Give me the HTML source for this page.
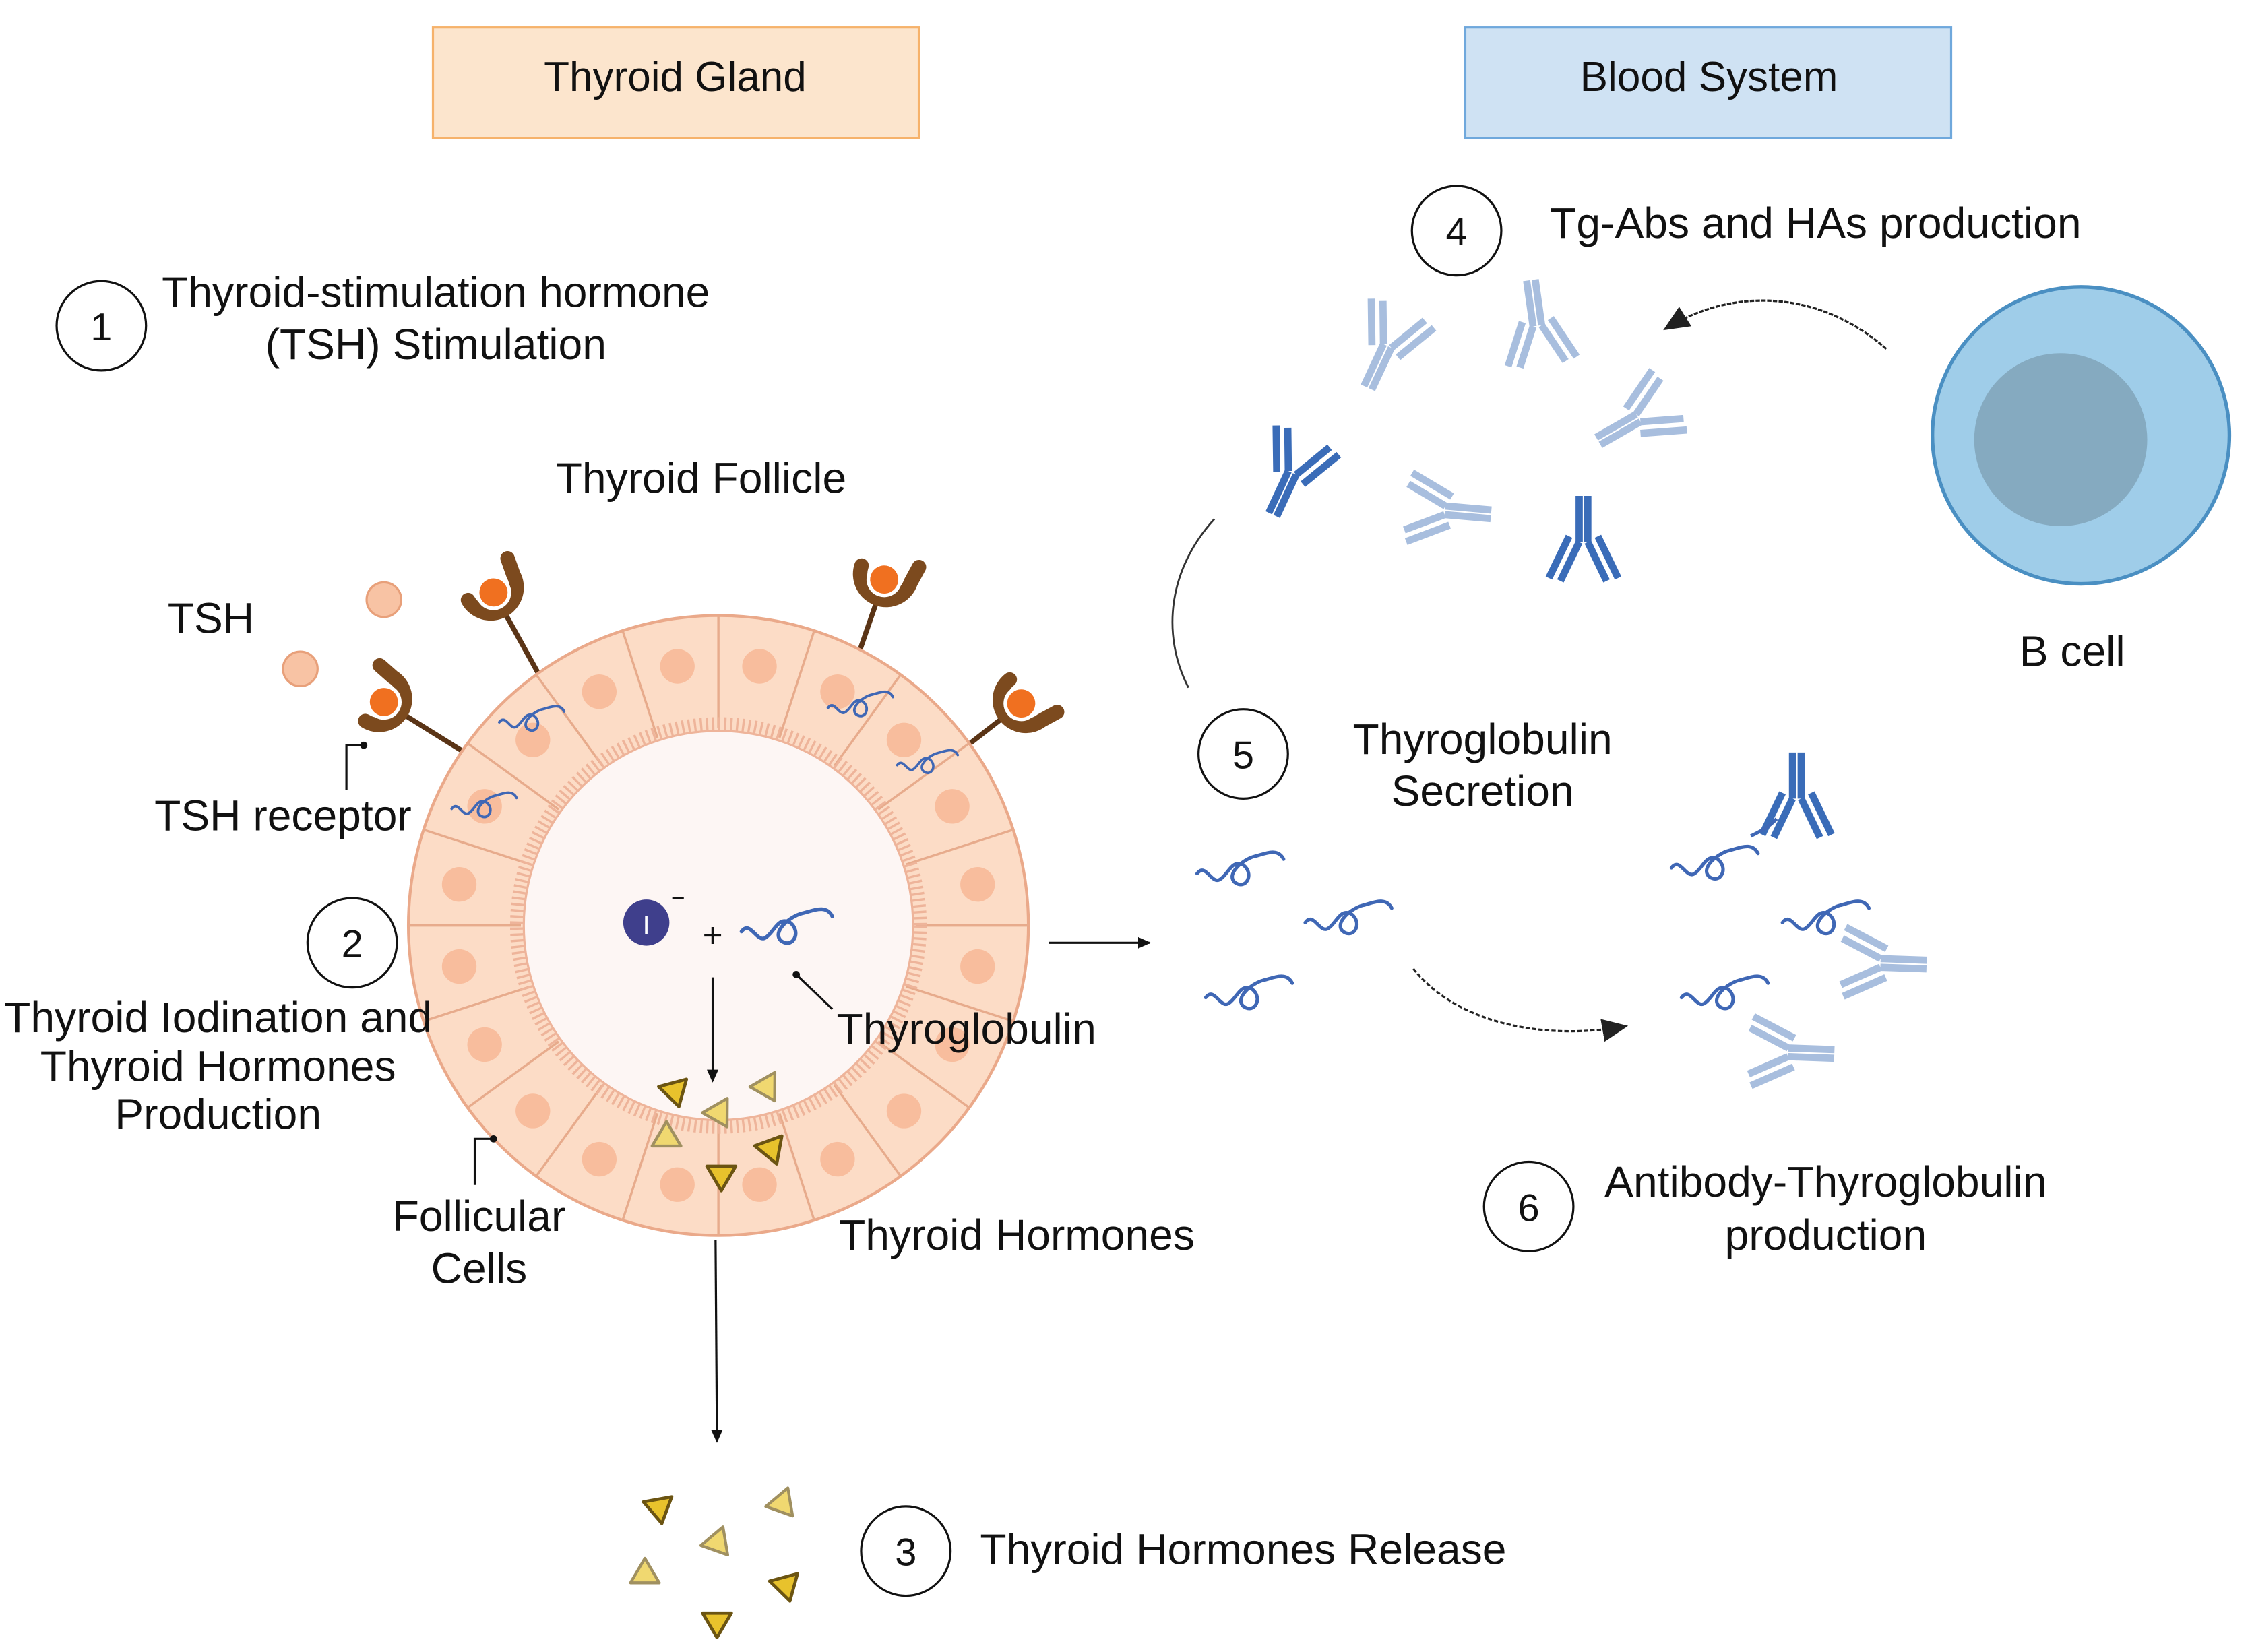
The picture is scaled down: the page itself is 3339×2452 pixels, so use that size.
<!DOCTYPE html>
<html><head><meta charset="utf-8"><style>
html,body{margin:0;padding:0;background:#fff;}
svg{display:block;}
text{font-family:"Liberation Sans",Arial,sans-serif;fill:#111;}
</style></head><body>
<svg width="3339" height="2452" viewBox="0 0 1560 1146" xmlns="http://www.w3.org/2000/svg">
<defs>
<marker id="ah" markerWidth="10" markerHeight="10" refX="8" refY="5" orient="auto" markerUnits="userSpaceOnUse">
<path d="M0,1 L9,5 L0,9 Z" fill="#111"/></marker>
<marker id="ahb" markerWidth="20" markerHeight="16" refX="16" refY="8" orient="auto" markerUnits="userSpaceOnUse">
<path d="M0,0 L18,8 L0,16 Z" fill="#222"/></marker>
<g id="abd" stroke="#3a6cb8" stroke-width="5" stroke-linecap="butt" fill="none">
<path d="M-3,0 L-3,-32 M3,0 L3,-32 M-3,0 L-16,27 M3,0 L16,27 M-10,-4 L-24,25 M10,-4 L24,25"/>
</g>
<g id="abl" stroke="#a8bede" stroke-width="5" stroke-linecap="butt" fill="none">
<path d="M-3,0 L-3,-32 M3,0 L3,-32 M-3,0 L-16,27 M3,0 L16,27 M-10,-4 L-24,25 M10,-4 L24,25"/>
</g>
<g id="rec">
<line x1="0" y1="18" x2="0" y2="64" stroke="#5a3416" stroke-width="3.5"/>
<path d="M-18,-4 A18,18 0 0 0 18,-4 L20,-16" fill="none" stroke="#7c4a1e" stroke-width="10" stroke-linecap="round"/>
<circle cx="0" cy="0" r="11" fill="#f07020" stroke="#fff" stroke-width="2.5"/>
</g>
<path id="tg" d="M0,4 c6,-8 10,8 16,4 c6,-4 8,-14 16,-10 c8,6 2,18 -6,12 c-6,-6 6,-16 14,-18 c8,-2 16,-6 20,2" fill="none" stroke="#3f67b5" stroke-width="2.4" stroke-linecap="round"/>
<path id="tri" d="M-10,-7 L10,-7 L0,10 Z" fill="#e8c22c" stroke="#6b5412" stroke-width="2.2" stroke-linejoin="round"/>
<path id="tril" d="M-10,-7 L10,-7 L0,10 Z" fill="#f0d870" stroke="#a09060" stroke-width="2" stroke-linejoin="round"/>
</defs>

<!-- header boxes -->
<rect x="300" y="19" width="337" height="77" fill="#fce5cd" stroke="#f6b26b" stroke-width="1.5"/>
<text x="468" y="63" font-size="29" text-anchor="middle">Thyroid Gland</text>
<rect x="1016" y="19" width="337" height="77" fill="#cfe2f3" stroke="#6fa8dc" stroke-width="1.5"/>
<text x="1185" y="63" font-size="29" text-anchor="middle">Blood System</text>

<!-- step circles -->
<g fill="#fff" stroke="#111" stroke-width="1.5">
<circle cx="70" cy="226" r="31"/><circle cx="244" cy="654" r="31"/><circle cx="628" cy="1076" r="31"/>
<circle cx="1010" cy="160" r="31"/><circle cx="862" cy="523" r="31"/><circle cx="1060" cy="837" r="31"/>
</g>
<g font-size="27" text-anchor="middle">
<text x="70" y="236">1</text><text x="244" y="664">2</text><text x="628" y="1086">3</text>
<text x="1010" y="170">4</text><text x="862" y="533">5</text><text x="1060" y="847">6</text>
</g>

<!-- TSH balls -->
<circle cx="266" cy="416" r="12" fill="#f8c3a4" stroke="#e8a07a" stroke-width="1.5"/>
<circle cx="208" cy="464" r="12" fill="#f8c3a4" stroke="#e8a07a" stroke-width="1.5"/>

<!-- receptors -->
<use href="#rec" transform="translate(266,487) rotate(-58)"/>
<use href="#rec" transform="translate(342,411) rotate(-29)"/>
<use href="#rec" transform="translate(613,402) rotate(19)"/>
<use href="#rec" transform="translate(708,488) rotate(52)"/>

<!-- follicle -->
<circle cx="498" cy="642" r="215" fill="#fcdcc6" stroke="#eaa98a" stroke-width="2"/>
<g stroke="#e7ab8c" stroke-width="1.6" fill="#f8bd9d">
<g transform="rotate(0 498 642)"><line x1="498" y1="505" x2="498" y2="427"/><circle transform="rotate(9 498 642)" cx="498" cy="460" r="12" stroke="none"/></g>
<g transform="rotate(18 498 642)"><line x1="498" y1="505" x2="498" y2="427"/><circle transform="rotate(9 498 642)" cx="498" cy="460" r="12" stroke="none"/></g>
<g transform="rotate(36 498 642)"><line x1="498" y1="505" x2="498" y2="427"/><circle transform="rotate(9 498 642)" cx="498" cy="460" r="12" stroke="none"/></g>
<g transform="rotate(54 498 642)"><line x1="498" y1="505" x2="498" y2="427"/><circle transform="rotate(9 498 642)" cx="498" cy="460" r="12" stroke="none"/></g>
<g transform="rotate(72 498 642)"><line x1="498" y1="505" x2="498" y2="427"/><circle transform="rotate(9 498 642)" cx="498" cy="460" r="12" stroke="none"/></g>
<g transform="rotate(90 498 642)"><line x1="498" y1="505" x2="498" y2="427"/><circle transform="rotate(9 498 642)" cx="498" cy="460" r="12" stroke="none"/></g>
<g transform="rotate(108 498 642)"><line x1="498" y1="505" x2="498" y2="427"/><circle transform="rotate(9 498 642)" cx="498" cy="460" r="12" stroke="none"/></g>
<g transform="rotate(126 498 642)"><line x1="498" y1="505" x2="498" y2="427"/><circle transform="rotate(9 498 642)" cx="498" cy="460" r="12" stroke="none"/></g>
<g transform="rotate(144 498 642)"><line x1="498" y1="505" x2="498" y2="427"/><circle transform="rotate(9 498 642)" cx="498" cy="460" r="12" stroke="none"/></g>
<g transform="rotate(162 498 642)"><line x1="498" y1="505" x2="498" y2="427"/><circle transform="rotate(9 498 642)" cx="498" cy="460" r="12" stroke="none"/></g>
<g transform="rotate(180 498 642)"><line x1="498" y1="505" x2="498" y2="427"/><circle transform="rotate(9 498 642)" cx="498" cy="460" r="12" stroke="none"/></g>
<g transform="rotate(198 498 642)"><line x1="498" y1="505" x2="498" y2="427"/><circle transform="rotate(9 498 642)" cx="498" cy="460" r="12" stroke="none"/></g>
<g transform="rotate(216 498 642)"><line x1="498" y1="505" x2="498" y2="427"/><circle transform="rotate(9 498 642)" cx="498" cy="460" r="12" stroke="none"/></g>
<g transform="rotate(234 498 642)"><line x1="498" y1="505" x2="498" y2="427"/><circle transform="rotate(9 498 642)" cx="498" cy="460" r="12" stroke="none"/></g>
<g transform="rotate(252 498 642)"><line x1="498" y1="505" x2="498" y2="427"/><circle transform="rotate(9 498 642)" cx="498" cy="460" r="12" stroke="none"/></g>
<g transform="rotate(270 498 642)"><line x1="498" y1="505" x2="498" y2="427"/><circle transform="rotate(9 498 642)" cx="498" cy="460" r="12" stroke="none"/></g>
<g transform="rotate(288 498 642)"><line x1="498" y1="505" x2="498" y2="427"/><circle transform="rotate(9 498 642)" cx="498" cy="460" r="12" stroke="none"/></g>
<g transform="rotate(306 498 642)"><line x1="498" y1="505" x2="498" y2="427"/><circle transform="rotate(9 498 642)" cx="498" cy="460" r="12" stroke="none"/></g>
<g transform="rotate(324 498 642)"><line x1="498" y1="505" x2="498" y2="427"/><circle transform="rotate(9 498 642)" cx="498" cy="460" r="12" stroke="none"/></g>
<g transform="rotate(342 498 642)"><line x1="498" y1="505" x2="498" y2="427"/><circle transform="rotate(9 498 642)" cx="498" cy="460" r="12" stroke="none"/></g>
</g>
<circle cx="498" cy="642" r="140" fill="none" stroke="#eeb49a" stroke-width="9" stroke-dasharray="1.6 2.6"/>
<circle cx="498" cy="642" r="135" fill="#fdf6f4" stroke="#eeb49a" stroke-width="1.5"/>

<!-- Tg in cells -->
<use href="#tg" transform="translate(346,498) scale(0.75)"/>
<use href="#tg" transform="translate(313,558) scale(0.75)"/>
<use href="#tg" transform="translate(574,488) scale(0.75)"/>
<use href="#tg" transform="translate(622,528) scale(0.7)"/>

<!-- lumen contents -->
<circle cx="448" cy="640" r="16" fill="#3f3f8c"/>
<text x="448" y="648" font-size="18" text-anchor="middle" style="fill:#fff">I</text>
<line x1="466" y1="623" x2="474" y2="623" stroke="#111" stroke-width="1.5"/>
<text x="494" y="657" font-size="24" text-anchor="middle">+</text>
<use href="#tg" transform="translate(514,642) scale(1.05)"/>
<line x1="552" y1="676" x2="577" y2="700" stroke="#111" stroke-width="1.5"/>
<circle cx="552" cy="676" r="2.5" fill="#111"/>
<line x1="494" y1="678" x2="494" y2="750" stroke="#111" stroke-width="1.5" marker-end="url(#ah)"/>
<use href="#tri" transform="translate(468,758) rotate(-15)"/>
<use href="#tril" transform="translate(532,755) rotate(-30)"/>
<use href="#tril" transform="translate(499,773) rotate(-30)"/>
<use href="#tril" transform="translate(462,788) rotate(180)"/>
<use href="#tri" transform="translate(535,798) rotate(-20)"/>
<use href="#tri" transform="translate(500,816)"/>

<!-- follicle pointer lines -->
<polyline points="252,517 240,517 240,548" fill="none" stroke="#111" stroke-width="1.5"/>
<circle cx="252" cy="517" r="2.5" fill="#111"/>
<polyline points="342,790 329,790 329,822" fill="none" stroke="#111" stroke-width="1.5"/>
<circle cx="342" cy="790" r="2.5" fill="#111"/>

<!-- arrows -->
<line x1="496" y1="860" x2="497" y2="1000" stroke="#111" stroke-width="1.5" marker-end="url(#ah)"/>
<line x1="727" y1="654" x2="797" y2="654" stroke="#111" stroke-width="1.5" marker-end="url(#ah)"/>

<!-- released hormones -->
<use href="#tri" transform="translate(457,1047) rotate(-10)"/>
<use href="#tril" transform="translate(543,1044) rotate(-40)"/>
<use href="#tril" transform="translate(498,1071) rotate(-40)"/>
<use href="#tril" transform="translate(447,1091) rotate(180)"/>
<use href="#tri" transform="translate(545,1101) rotate(-15)"/>
<use href="#tri" transform="translate(497,1126)"/>

<!-- B cell -->
<circle cx="1443" cy="302" r="103" fill="#9fcde9" stroke="#4a8fc2" stroke-width="2.5"/>
<circle cx="1429" cy="305" r="60" fill="#85aac0"/>

<!-- blood arrows -->
<path d="M1308,242 C1260,200 1200,200 1155,228" fill="none" stroke="#222" stroke-width="1.5" stroke-dasharray="3 1" marker-end="url(#ahb)"/>
<path d="M824,477 C805,440 810,395 842,360" fill="none" stroke="#333" stroke-width="1.3"/>
<path d="M980,672 C1010,710 1070,722 1127,712" fill="none" stroke="#222" stroke-width="1.5" stroke-dasharray="3 1.5" marker-end="url(#ahb)"/>

<!-- antibodies -->
<use href="#abl" transform="translate(962,240) rotate(205)"/>
<use href="#abl" transform="translate(1066,226) rotate(-8)"/>
<use href="#abl" transform="translate(1136,290) rotate(240)"/>
<use href="#abd" transform="translate(896,328) rotate(205)"/>
<use href="#abl" transform="translate(1002,354) rotate(95)"/>
<use href="#abd" transform="translate(1098,376) rotate(0)"/>
<use href="#abd" transform="translate(1246,554) rotate(0)"/>
<use href="#abl" transform="translate(1304,668) rotate(92)"/>
<use href="#abl" transform="translate(1240,730) rotate(92)"/>

<!-- thyroglobulins in blood -->
<use href="#tg" transform="translate(830,602)"/>
<use href="#tg" transform="translate(905,636)"/>
<use href="#tg" transform="translate(836,688)"/>
<use href="#tg" transform="translate(1159,598)"/>
<path d="M1214,580 C1222,576 1226,574 1232,568" fill="none" stroke="#3f67b5" stroke-width="2.4"/>
<use href="#tg" transform="translate(1236,636)"/>
<use href="#tg" transform="translate(1166,688)"/>

<!-- labels (on top) -->
<g font-size="30" text-anchor="middle">
<text x="302" y="213">Thyroid-stimulation hormone</text>
<text x="302" y="249">(TSH) Stimulation</text>
<text x="486" y="342">Thyroid Follicle</text>
<text x="146" y="439">TSH</text>
<text x="196" y="576">TSH receptor</text>
<text x="151" y="716">Thyroid Iodination and</text>
<text x="151" y="750">Thyroid Hormones</text>
<text x="151" y="783">Production</text>
<text x="332" y="854">Follicular</text>
<text x="332" y="890">Cells</text>
<text x="705" y="867">Thyroid Hormones</text>
<text x="670" y="724">Thyroglobulin</text>
<text x="862" y="1085">Thyroid Hormones Release</text>
<text x="1259" y="165">Tg-Abs and HAs production</text>
<text x="1437" y="462">B cell</text>
<text x="1028" y="523">Thyroglobulin</text>
<text x="1028" y="559">Secretion</text>
<text x="1266" y="830">Antibody-Thyroglobulin</text>
<text x="1266" y="867">production</text>
</g>
</svg>
</body></html>
